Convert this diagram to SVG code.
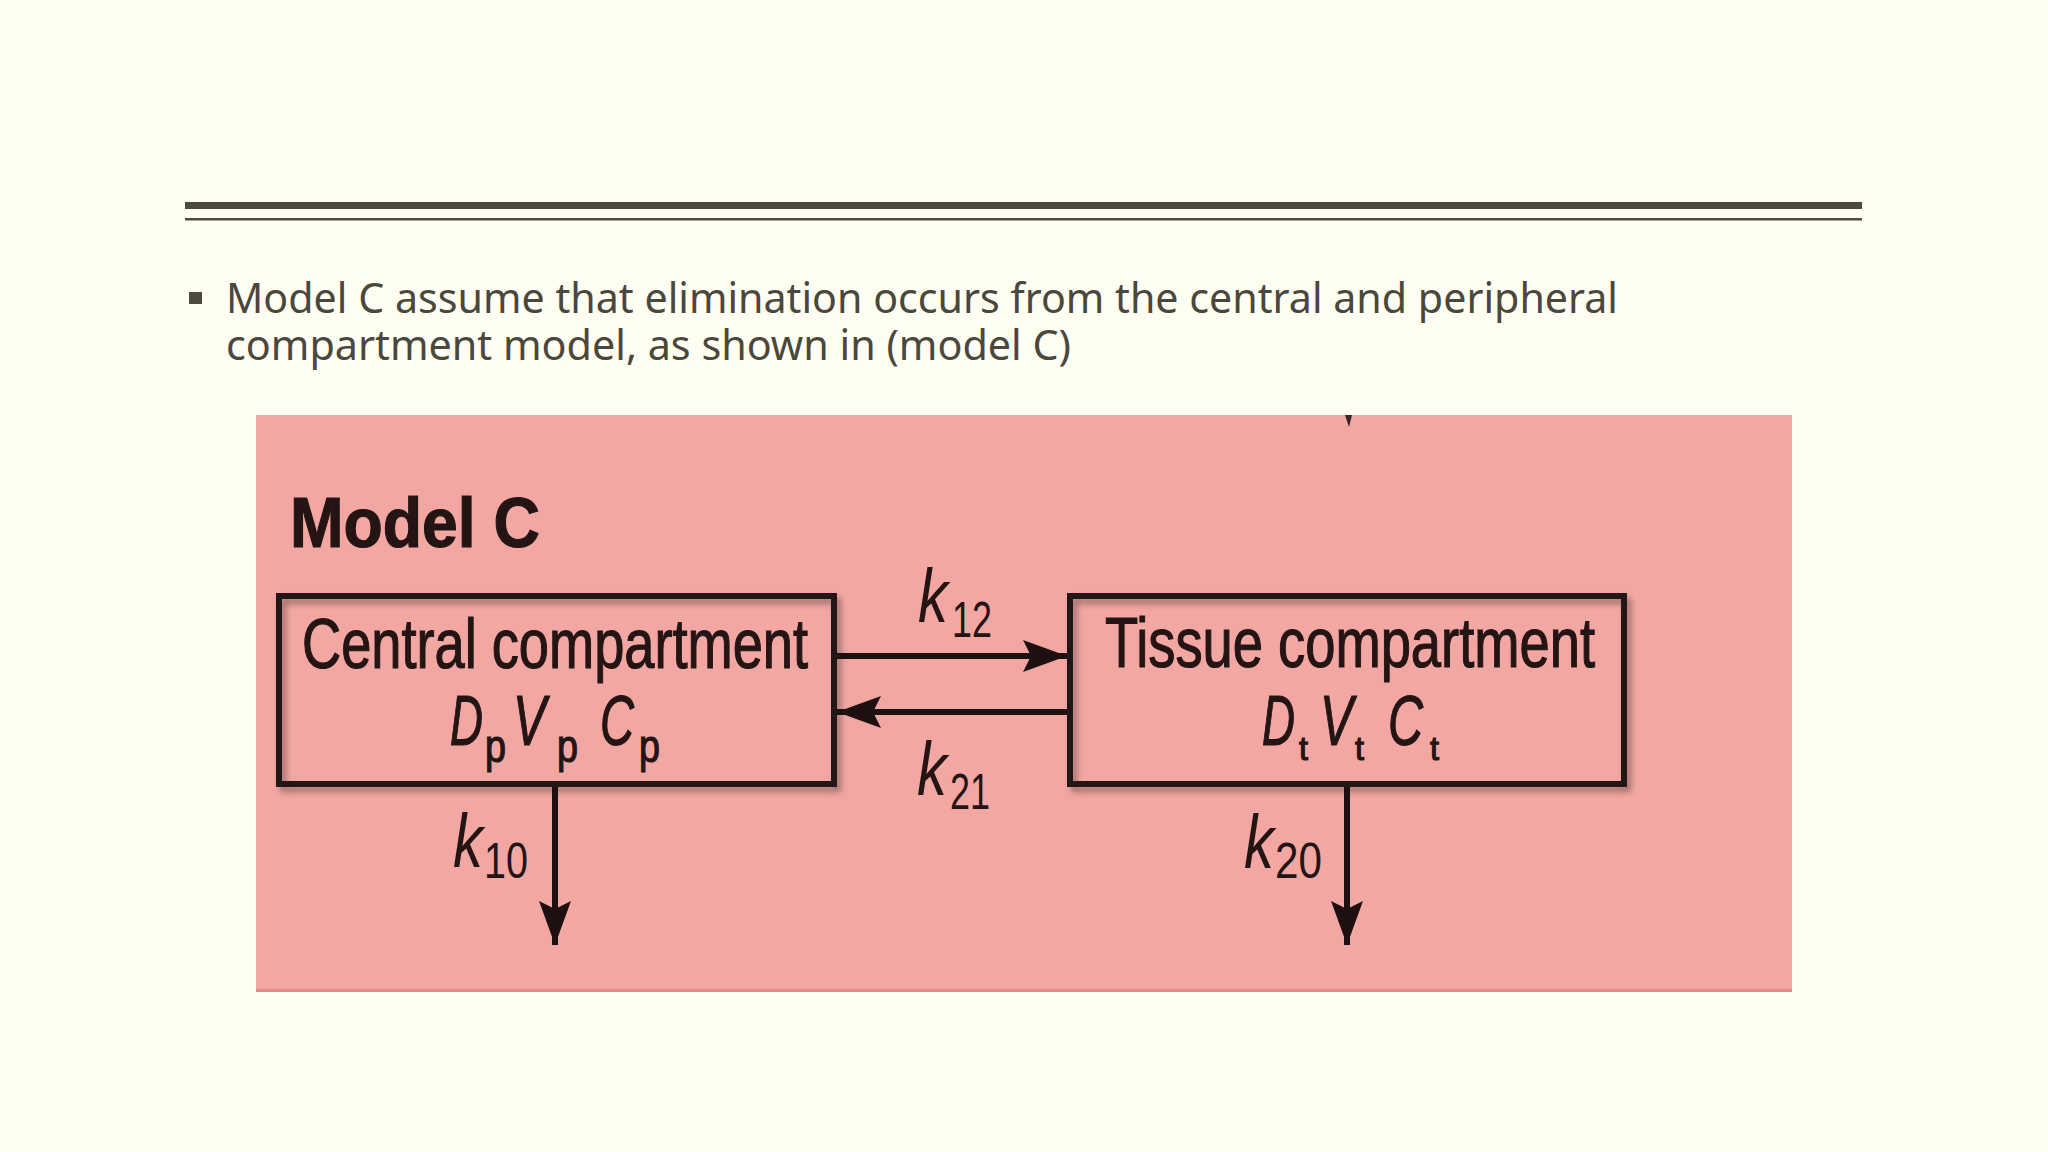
<svg xmlns="http://www.w3.org/2000/svg" width="2048" height="1152" viewBox="0 0 2048 1152">
<defs>
<style>
.rule{fill:#4d4a3e}
.body{font-family:"Noto Sans","Open Sans",sans-serif;font-size:42px;fill:#4a473d}
.fig{font-family:"Liberation Sans","DejaVu Sans",sans-serif;fill:#241414}
.thick{stroke:#241414;stroke-width:1.2}
.box{fill:none;stroke:#241414;stroke-width:6}
.conn{stroke:#1e1010;stroke-width:6;fill:none}
.lbl{font-size:76px;font-style:italic}
.sub{font-size:50px}
.boxtxt{font-size:70px}
.it{font-style:italic}
</style>
<marker id="ah" markerUnits="userSpaceOnUse" markerWidth="46" markerHeight="34" refX="44" refY="16" orient="auto">
<path d="M0,0 L44,16 L0,32 L8,16 z" fill="#1e1010"/>
</marker>
<filter id="sh" x="-5%" y="-5%" width="110%" height="115%">
<feGaussianBlur in="SourceAlpha" stdDeviation="3"/>
<feOffset dx="4" dy="5" result="b"/>
<feComponentTransfer><feFuncA type="linear" slope="0.35"/></feComponentTransfer>
<feMerge><feMergeNode/><feMergeNode in="SourceGraphic"/></feMerge>
</filter>
</defs>
<rect width="2048" height="1152" fill="#fefef3"/>
<rect class="rule" x="185" y="202" width="1677" height="7"/>
<rect class="rule" x="185" y="218" width="1677" height="2.5"/>
<rect class="rule" x="189" y="292" width="13" height="12"/>
<text class="body" x="226" y="313" textLength="1392" lengthAdjust="spacingAndGlyphs">Model C assume that elimination occurs from the central and peripheral</text>
<text class="body" x="226" y="360" textLength="845" lengthAdjust="spacingAndGlyphs">compartment model, as shown in (model C)</text>

<g id="figure">
<rect x="256" y="415" width="1536" height="577" fill="#f2a7a3"/>
<rect x="256" y="989" width="1536" height="3" fill="#e08c8a"/>
<path d="M1345,415 L1352,415 L1349,427 z" fill="#3a2424"/>
<text class="fig thick" x="290" y="547" font-size="70" font-weight="bold" textLength="250" lengthAdjust="spacingAndGlyphs">Model C</text>
</g>

<g id="central">
<rect class="box" x="279" y="596" width="555" height="188" filter="url(#sh)"/>
<text class="fig boxtxt thick" x="302" y="668" textLength="506" lengthAdjust="spacingAndGlyphs">Central compartment</text>
<text class="fig thick"><tspan class="it" x="450" y="745" font-size="70" textLength="33" lengthAdjust="spacingAndGlyphs">D</tspan><tspan x="485" y="762" font-size="46" textLength="21" lengthAdjust="spacingAndGlyphs">p</tspan><tspan class="it" x="513" y="745" font-size="70" textLength="33" lengthAdjust="spacingAndGlyphs">V</tspan><tspan x="557" y="762" font-size="46" textLength="21" lengthAdjust="spacingAndGlyphs">p</tspan><tspan class="it" x="600" y="745" font-size="70" textLength="34" lengthAdjust="spacingAndGlyphs">C</tspan><tspan x="639" y="762" font-size="46" textLength="21" lengthAdjust="spacingAndGlyphs">p</tspan></text>
</g>

<g id="tissue">
<rect class="box" x="1070" y="596" width="554" height="188" filter="url(#sh)"/>
<text class="fig boxtxt thick" x="1105" y="667" textLength="490" lengthAdjust="spacingAndGlyphs">Tissue compartment</text>
<text class="fig thick"><tspan class="it" x="1262" y="745" font-size="70" textLength="33" lengthAdjust="spacingAndGlyphs">D</tspan><tspan x="1299" y="760" font-size="34" textLength="9" lengthAdjust="spacingAndGlyphs">t</tspan><tspan class="it" x="1320" y="745" font-size="70" textLength="33" lengthAdjust="spacingAndGlyphs">V</tspan><tspan x="1355" y="760" font-size="34" textLength="9" lengthAdjust="spacingAndGlyphs">t</tspan><tspan class="it" x="1388" y="745" font-size="70" textLength="35" lengthAdjust="spacingAndGlyphs">C</tspan><tspan x="1430" y="760" font-size="34" textLength="9" lengthAdjust="spacingAndGlyphs">t</tspan></text>
</g>

<g id="connectors">
<line class="conn" x1="837" y1="656" x2="1067" y2="656" marker-end="url(#ah)"/>
<line class="conn" x1="1067" y1="712" x2="837" y2="712" marker-end="url(#ah)"/>
<line class="conn" x1="555" y1="787" x2="555" y2="945" marker-end="url(#ah)"/>
<line class="conn" x1="1347" y1="787" x2="1347" y2="945" marker-end="url(#ah)"/>
<text class="fig"><tspan class="lbl" x="918" y="622" textLength="30" lengthAdjust="spacingAndGlyphs">k</tspan><tspan class="sub" x="952" y="637" textLength="40" lengthAdjust="spacingAndGlyphs">12</tspan></text>
<text class="fig"><tspan class="lbl" x="917" y="795" textLength="30" lengthAdjust="spacingAndGlyphs">k</tspan><tspan class="sub" x="950" y="809" textLength="40" lengthAdjust="spacingAndGlyphs">21</tspan></text>
<text class="fig"><tspan class="lbl" x="453" y="867" textLength="30" lengthAdjust="spacingAndGlyphs">k</tspan><tspan class="sub" x="484" y="878" textLength="44" lengthAdjust="spacingAndGlyphs">10</tspan></text>
<text class="fig"><tspan class="lbl" x="1244" y="868" textLength="30" lengthAdjust="spacingAndGlyphs">k</tspan><tspan class="sub" x="1275" y="878" textLength="47" lengthAdjust="spacingAndGlyphs">20</tspan></text>
</g>
</svg>
